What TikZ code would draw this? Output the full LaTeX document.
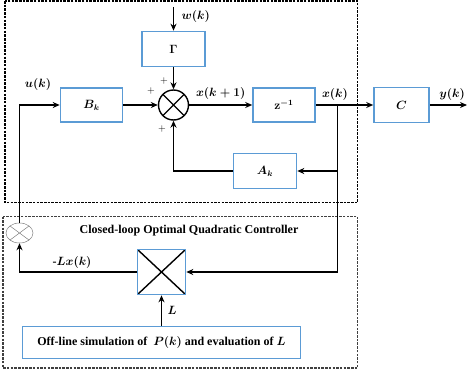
\documentclass[tikz,border=0pt]{standalone}
\usepackage{fontspec}
\setmainfont{Liberation Serif}
\usetikzlibrary{arrows.meta, shapes.geometric, calc}

\definecolor{boxblue}{RGB}{91,155,213}

\begin{document}
\begin{tikzpicture}[
    x=1pt, y=-1pt,
    font=\fontsize{12}{14}\selectfont\bfseries\boldmath,
    block/.style={rectangle, draw=boxblue, line width=1.6pt, inner sep=0pt, align=center},
    sumnode/.style={circle, draw, line width=1.4pt, minimum size=30pt, inner sep=0pt,
        path picture={\draw[black, line width=1.4pt] (path picture bounding box.north west) -- (path picture bounding box.south east)
                      (path picture bounding box.north east) -- (path picture bounding box.south west);}},
    gainnode/.style={rectangle, draw=boxblue, line width=1.6pt, minimum width=48pt, minimum height=45pt, inner sep=0pt,
        path picture={\draw[black, line width=1.4pt] (path picture bounding box.north west) -- (path picture bounding box.south east)
                      (path picture bounding box.north east) -- (path picture bounding box.south west);}},
    signnode/.style={ellipse, draw=black!50, line width=0.5pt, minimum width=27pt, minimum height=20pt, inner sep=0pt,
        path picture={\draw[black!50, line width=0.5pt] (path picture bounding box.north west) -- (path picture bounding box.south east)
                      (path picture bounding box.north east) -- (path picture bounding box.south west);}},
    arrow/.style={line width=1.5pt, -{Stealth[length=7pt, width=6pt]}},
    frame/.style={line width=1.2pt, dash pattern=on 2.5pt off 1.2pt},
    plus/.style={font=\fontsize{10}{12}\selectfont}
]
    \useasboundingbox (0,0) rectangle (474,370);

    % dashed frames
    \draw[frame] (5,1) rectangle (357.5,202.5);
    \draw[frame, black!75] (3,216.5) rectangle (357.5,368);

    % plant
    \node (gam) [block, minimum width=63pt, minimum height=35pt] at (173.5,49) {$\Gamma$};
    \node (Bk) [block, minimum width=62pt, minimum height=34pt] at (91.5,105) {$B_k$};
    \node (sum) [sumnode] at (173.5,105) {};
    \node (zinv) [block, minimum width=62pt, minimum height=34pt] at (284,105) {$\mathbf{z^{-1}}$};
    \node (C) [block, minimum width=55pt, minimum height=35pt] at (401.5,105) {$C$};
    \node (Ak) [block, minimum width=63pt, minimum height=35pt] at (265,171) {$A_k$};

    % controller
    \node (mult) [gainnode] at (161.5,272) {};
    \node (neg) [signnode] at (19.5,233) {};
    \node (offl) [block, minimum width=278pt, minimum height=32pt] at (161.5,342.5)
        {Off-line simulation of \ $P(k)$ and evaluation of $L$};
    \node (title) at (189,231) {Closed-loop Optimal Quadratic Controller};

    \coordinate (win) at (173.5,7);
    \coordinate (yout) at (467,105);
    \coordinate (br) at (337.5,105);

    \draw [arrow] (win) -- node[right, xshift=4pt, yshift=2pt] {$w(k)$} (gam);
    \draw [arrow] (gam) -- (sum);
    \draw [arrow] (Bk) -- (sum);
    \draw [arrow] (sum) -- node[above, yshift=1pt] {$x(k+1)$} (zinv);
    \draw [arrow] (zinv) -- (C);
    \draw [arrow] (C) -- (yout);
    \draw [arrow] (br |- Ak) -- (Ak);
    \draw [arrow] (Ak) -| (sum);
    \draw [arrow] (br) |- (mult);
    \draw [arrow] (mult) -| (neg);
    \draw [arrow] (neg) |- (Bk);
    \draw [arrow] (offl.north -| mult) -- node[right, xshift=2pt] {$L$} (mult);

    % labels
    \node at (335,94) {$x(k)$};
    \node at (452,94) {$y(k)$};
    \node at (38,84) {$u(k)$};
    \node at (72,262) {-$Lx(k)$};
    \node[plus] at (164,81) {$+$};
    \node[plus] at (151,91) {$+$};
    \node[plus] at (162,129) {$+$};
\end{tikzpicture}
\end{document}
